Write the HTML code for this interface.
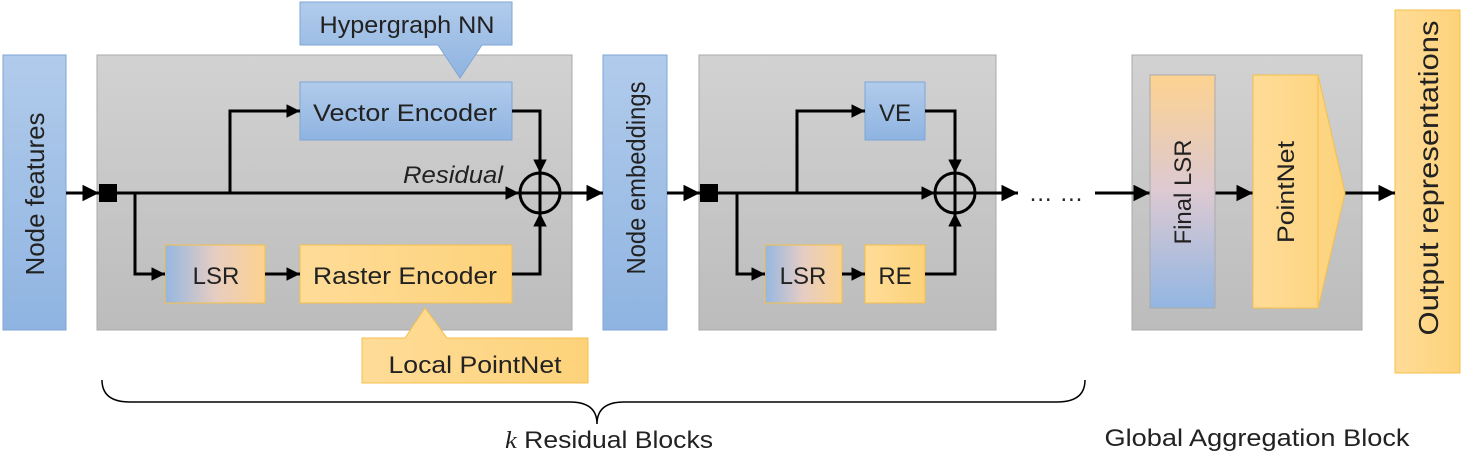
<!DOCTYPE html>
<html><head><meta charset="utf-8"><style>body{margin:0;background:#fff}svg{display:block}text{font-family:"Liberation Sans",sans-serif;fill:#222}</style></head><body>
<svg width="1463" height="453" viewBox="0 0 1463 453" xmlns="http://www.w3.org/2000/svg">
<defs>
<linearGradient id="gb" x1="0" y1="0" x2="0" y2="1"><stop offset="0" stop-color="#d2d2d2"/><stop offset="1" stop-color="#bcbcbc"/></linearGradient>
<linearGradient id="bl" x1="0" y1="0" x2="0" y2="1"><stop offset="0" stop-color="#b1cbeb"/><stop offset="1" stop-color="#8fb4e1"/></linearGradient>
<linearGradient id="or" x1="0" y1="0" x2="1" y2="0"><stop offset="0" stop-color="#fedc98"/><stop offset="1" stop-color="#fdd27a"/></linearGradient>
<linearGradient id="lsr" x1="0" y1="0" x2="1" y2="0"><stop offset="0" stop-color="#95b7e2"/><stop offset="0.5" stop-color="#e6cdc2"/><stop offset="1" stop-color="#fdd28e"/></linearGradient>
<linearGradient id="flsr" x1="0" y1="0" x2="0" y2="1"><stop offset="0" stop-color="#fdd290"/><stop offset="0.5" stop-color="#dcc9d2"/><stop offset="1" stop-color="#92b6e2"/></linearGradient>
<marker id="a" viewBox="0 0 10 10" refX="10" refY="5" markerWidth="5.5" markerHeight="5.5" orient="auto" markerUnits="strokeWidth"><path d="M0,0L10,5L0,10z" fill="#000"/></marker>
<marker id="s" viewBox="0 0 10 10" refX="10" refY="5" markerWidth="4.5" markerHeight="4.5" orient="auto" markerUnits="strokeWidth"><path d="M0,0L10,5L0,10z" fill="#000"/></marker>
</defs>
<rect x="97" y="55" width="475" height="275" fill="url(#gb)" stroke="#aaa"/>
<rect x="699" y="55" width="297" height="275" fill="url(#gb)" stroke="#aaa"/>
<rect x="1132" y="55" width="230" height="275" fill="url(#gb)" stroke="#aaa"/>
<rect x="3" y="55" width="63" height="275" fill="url(#bl)" stroke="#7ea6d6"/>
<text transform="translate(44,194) rotate(-90)" text-anchor="middle" font-size="26" textLength="163" lengthAdjust="spacingAndGlyphs">Node features</text>
<rect x="603" y="55" width="64" height="275" fill="url(#bl)" stroke="#7ea6d6"/>
<text transform="translate(645,178) rotate(-90)" text-anchor="middle" font-size="26" textLength="193" lengthAdjust="spacingAndGlyphs">Node embeddings</text>
<rect x="1395" y="10" width="65" height="363" fill="url(#or)" stroke="#f4c04a"/>
<text transform="translate(1438,178) rotate(-90)" text-anchor="middle" font-size="28" textLength="315" lengthAdjust="spacingAndGlyphs">Output representations</text>
<path d="M300,2H512V45H482L460,78L438,45H300Z" fill="url(#bl)" stroke="#7ea6d6"/>
<text x="407" y="33" text-anchor="middle" font-size="24" textLength="175" lengthAdjust="spacingAndGlyphs">Hypergraph NN</text>
<rect x="300" y="82" width="212" height="58" fill="url(#bl)" stroke="#7ea6d6"/>
<text x="405" y="121" text-anchor="middle" font-size="24" textLength="184" lengthAdjust="spacingAndGlyphs">Vector Encoder</text>
<rect x="165" y="245" width="100" height="58" fill="url(#lsr)" stroke="#f4c04a"/>
<text x="216" y="284" text-anchor="middle" font-size="24">LSR</text>
<rect x="300" y="245" width="212" height="58" fill="url(#or)" stroke="#f4c04a"/>
<text x="405" y="284" text-anchor="middle" font-size="24" textLength="184" lengthAdjust="spacingAndGlyphs">Raster Encoder</text>
<path d="M362,338H405L425,308L447,338H588V383H362Z" fill="url(#or)" stroke="#f4c04a"/>
<text x="475" y="373" text-anchor="middle" font-size="24" textLength="173" lengthAdjust="spacingAndGlyphs">Local PointNet</text>
<g stroke="#000" stroke-width="3" fill="none">
<line x1="66" y1="193" x2="99" y2="193" marker-end="url(#a)"/>
<line x1="117" y1="193" x2="519" y2="193" marker-end="url(#s)"/>
<polyline points="230,193 230,111 300,111" marker-end="url(#s)"/>
<polyline points="135,193 135,274 165,274" marker-end="url(#s)"/>
<line x1="265" y1="274" x2="300" y2="274" marker-end="url(#s)"/>
<polyline points="512,111 540,111 540,173" marker-end="url(#s)"/>
<polyline points="512,274 540,274 540,213" marker-end="url(#s)"/>
<circle cx="540" cy="193" r="20"/>
<line x1="520" y1="193" x2="560" y2="193"/><line x1="540" y1="173" x2="540" y2="213"/>
<line x1="560" y1="193" x2="603" y2="193" marker-end="url(#a)"/>
<line x1="667" y1="193" x2="700" y2="193" marker-end="url(#a)"/>
</g>
<rect x="99" y="184" width="18" height="18" fill="#000"/>
<text x="503" y="183" text-anchor="end" font-size="24" font-style="italic" textLength="100" lengthAdjust="spacingAndGlyphs">Residual</text>
<rect x="865" y="82" width="60" height="58" fill="url(#bl)" stroke="#7ea6d6"/>
<text x="895" y="121" text-anchor="middle" font-size="24">VE</text>
<rect x="765" y="245" width="77" height="58" fill="url(#lsr)" stroke="#f4c04a"/>
<text x="803" y="284" text-anchor="middle" font-size="24">LSR</text>
<rect x="865" y="245" width="60" height="58" fill="url(#or)" stroke="#f4c04a"/>
<text x="895" y="284" text-anchor="middle" font-size="24">RE</text>
<g stroke="#000" stroke-width="3" fill="none">
<line x1="718" y1="193" x2="935" y2="193" marker-end="url(#s)"/>
<polyline points="797,193 797,111 865,111" marker-end="url(#s)"/>
<polyline points="737,193 737,274 765,274" marker-end="url(#s)"/>
<line x1="842" y1="274" x2="865" y2="274" marker-end="url(#s)"/>
<polyline points="925,111 955,111 955,173" marker-end="url(#s)"/>
<polyline points="925,274 955,274 955,213" marker-end="url(#s)"/>
<circle cx="955" cy="193" r="20"/>
<line x1="935" y1="193" x2="975" y2="193"/><line x1="955" y1="173" x2="955" y2="213"/>
<line x1="975" y1="193" x2="1018" y2="193" marker-end="url(#a)"/>
<line x1="1095" y1="193" x2="1150" y2="193" marker-end="url(#a)"/>
<line x1="1215" y1="193" x2="1253" y2="193" marker-end="url(#a)"/>
<line x1="1345" y1="193" x2="1395" y2="193" marker-end="url(#a)"/>
</g>
<rect x="700" y="184" width="18" height="18" fill="#000"/>
<text x="1056" y="201" text-anchor="middle" font-size="24">… …</text>
<rect x="1150" y="75" width="65" height="233" fill="url(#flsr)" stroke="#aaa"/>
<text transform="translate(1191,192) rotate(-90)" text-anchor="middle" font-size="24" textLength="105" lengthAdjust="spacingAndGlyphs">Final LSR</text>
<path d="M1253,75H1318L1345,193L1318,308H1253Z" fill="url(#or)" stroke="#f4c04a"/>
<line x1="1318" y1="75" x2="1318" y2="308" stroke="#f4c04a"/>
<text transform="translate(1294,192) rotate(-90)" text-anchor="middle" font-size="24" textLength="102" lengthAdjust="spacingAndGlyphs">PointNet</text>
<path d="M102,380 Q102,402 130,402 H570 Q597,402 597,424 Q597,402 624,402 H1057 Q1085,402 1085,380" fill="none" stroke="#000" stroke-width="1.5"/>
<text x="609" y="448" text-anchor="middle" font-size="24" textLength="208" lengthAdjust="spacingAndGlyphs"><tspan font-style="italic" font-family="Liberation Serif">k</tspan> Residual Blocks</text>
<text x="1257" y="446" text-anchor="middle" font-size="24" textLength="305" lengthAdjust="spacingAndGlyphs">Global Aggregation Block</text>
</svg>
</body></html>
